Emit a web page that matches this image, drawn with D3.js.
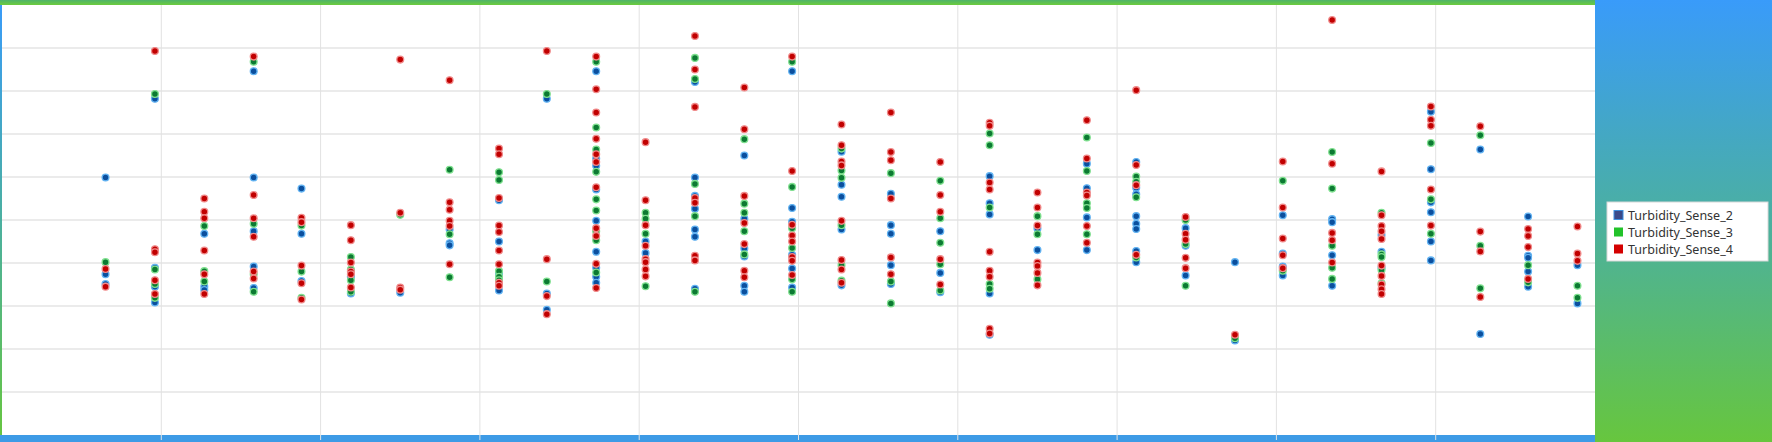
<!DOCTYPE html>
<html>
<head>
<meta charset="utf-8">
<script src="https://cdn.jsdelivr.net/npm/d3@7"></script>
<style>
  html, body { margin: 0; padding: 0; background: #fff; }
  svg { display: block; }
</style>
</head>
<body>
<div id="chart"></div>
<script>
var width = 1772;
var height = 442;

// x position of each sample column (grid units, 10 units across)
var columns = [0.65, 0.96, 1.27, 1.58, 1.88, 2.19, 2.50, 2.81, 3.12, 3.42,
               3.73, 4.04, 4.35, 4.66, 4.96, 5.27, 5.58, 5.89, 6.20, 6.50,
               6.81, 7.12, 7.43, 7.74, 8.04, 8.35, 8.66, 8.97, 9.28, 9.58, 9.89];

var seriesNames = ["Turbidity_Sense_2", "Turbidity_Sense_3", "Turbidity_Sense_4"];

// readings per column
var sense2 = [
  [5.99, 3.74, 3.51],
  [7.82, 3.89, 3.45, 3.08],
  [4.68, 3.45, 3.37],
  [8.46, 5.99, 4.74, 3.92, 3.42],
  [5.73, 4.68, 3.58],
  [3.68, 3.29],
  [3.31],
  [4.78, 4.46, 4.41],
  [5.46, 4.50, 3.76, 3.36],
  [7.82, 3.29, 2.91],
  [8.46, 6.43, 6.26, 5.71, 4.98, 4.26, 3.89, 3.68, 3.54],
  [4.50, 4.23],
  [8.21, 5.99, 5.56, 5.26, 4.78, 4.61, 3.40],
  [6.50, 5.03, 4.34, 4.15, 3.47, 3.33],
  [8.46, 5.28, 4.96, 4.19, 3.87, 3.43],
  [6.59, 5.82, 5.54, 4.78, 3.48],
  [5.61, 4.88, 4.68, 3.95, 3.51],
  [4.74, 3.77, 3.32],
  [6.02, 5.39, 5.13, 3.29, 2.33],
  [4.80, 4.30],
  [6.31, 5.74, 5.06, 4.30],
  [6.35, 5.75, 5.60, 5.09, 4.91, 4.79, 4.28, 4.02],
  [4.81, 4.40, 3.71],
  [4.02, 2.20],
  [5.11, 4.22, 3.92, 3.71],
  [5.02, 4.95, 4.18, 3.47],
  [4.65, 4.26, 3.89],
  [7.52, 6.18, 5.41, 5.18, 4.50, 4.06],
  [6.64, 2.35],
  [5.08, 4.17, 4.12, 3.80, 3.45],
  [3.95, 3.06]
];
var sense3 = [
  [4.02],
  [7.93, 3.85, 3.51, 3.19],
  [4.86, 3.81, 3.57],
  [8.68, 4.91, 3.74, 3.33],
  [4.87, 3.80, 3.19],
  [4.14, 3.85, 3.60, 3.33],
  [5.12],
  [6.17, 4.67, 3.67],
  [6.11, 5.93, 3.81, 3.68, 3.60],
  [7.93, 3.57],
  [8.68, 7.15, 6.64, 6.12, 5.48, 5.22, 4.74, 4.53, 3.78],
  [5.17, 5.03, 4.68, 3.46],
  [8.77, 8.28, 5.84, 5.09, 3.33],
  [6.88, 5.38, 5.17, 4.74, 4.20],
  [8.68, 5.77, 4.81, 4.35, 3.62, 3.33],
  [6.66, 6.15, 5.98, 4.88, 3.95, 3.59],
  [6.09, 3.57, 3.06],
  [5.91, 5.04, 4.47, 3.97, 3.36],
  [7.01, 6.74, 5.29, 3.51, 3.40],
  [5.09, 4.67, 3.62],
  [6.92, 6.14, 5.39, 5.28, 4.67],
  [6.01, 5.89, 5.53, 4.13],
  [5.00, 4.44, 3.47],
  [2.25],
  [5.91, 3.82],
  [6.58, 5.73, 4.40, 3.89, 3.63],
  [5.17, 4.20, 4.14, 3.84, 3.53],
  [6.79, 5.48, 4.68],
  [6.97, 4.40, 3.41],
  [3.95, 3.55],
  [3.47, 3.19]
];
var sense4 = [
  [3.86, 3.45],
  [8.93, 4.32, 4.25, 3.60, 3.28],
  [5.50, 5.19, 5.04, 4.29, 3.74, 3.28],
  [8.80, 5.58, 5.04, 4.61, 3.80, 3.64],
  [5.05, 4.95, 3.94, 3.53, 3.15],
  [4.88, 4.53, 4.01, 3.80, 3.74, 3.43],
  [8.73, 5.17, 3.43, 3.38],
  [8.25, 5.41, 5.24, 4.98, 4.86, 3.97],
  [6.66, 6.53, 5.51, 4.87, 4.72, 4.29, 3.97, 3.54, 3.47],
  [8.93, 4.09, 3.23, 2.81],
  [8.80, 8.04, 7.50, 6.89, 6.53, 6.35, 5.76, 4.81, 4.63, 3.98, 3.42],
  [6.81, 5.46, 4.88, 4.40, 4.09, 4.02, 3.85, 3.69],
  [9.28, 8.50, 7.63, 5.51, 5.40, 4.17, 4.06],
  [8.08, 7.11, 5.56, 4.93, 4.44, 3.82, 3.67],
  [8.80, 6.14, 4.89, 4.64, 4.50, 4.14, 4.05, 3.72],
  [7.22, 6.74, 6.36, 6.27, 4.98, 4.07, 3.85, 3.54],
  [7.50, 6.58, 6.39, 5.50, 4.13, 3.74],
  [6.35, 5.58, 5.19, 4.09, 3.50],
  [7.26, 7.19, 5.87, 5.71, 4.26, 3.82, 3.68, 2.47, 2.36],
  [5.64, 5.29, 4.87, 4.01, 3.93, 3.77, 3.48],
  [7.32, 6.43, 5.64, 5.57, 4.86, 4.47],
  [8.02, 6.28, 5.81, 4.19],
  [5.07, 4.68, 4.54, 4.12, 3.88],
  [2.33],
  [6.36, 5.29, 4.57, 4.18, 3.88],
  [9.65, 6.31, 4.70, 4.53, 4.01],
  [6.13, 5.11, 4.86, 4.74, 4.56, 3.94, 3.70, 3.50, 3.39, 3.28],
  [7.64, 7.33, 7.19, 5.71, 4.87],
  [7.18, 4.73, 4.27, 3.21],
  [4.79, 4.63, 4.37, 3.63],
  [4.85, 4.22, 4.05]
];

var fills = ["#0b4f9e", "#0c7a32", "#c10000"];
var rings = ["#62b3f2", "#7fe08f", "#f08a8a"];

var plot = {left: 2, top: 5, right: 1595, bottom: 435};

var x = d3.scaleLinear().domain([0, 10]).range([plot.left, plot.right]);
var y = d3.scaleLinear().domain([0, 10]).range([plot.bottom, plot.top]);

var svg = d3.select("#chart").append("svg")
  .attr("width", width)
  .attr("height", height);

var defs = svg.append("defs");
var side = defs.append("linearGradient").attr("id", "side")
  .attr("x1", 0).attr("y1", 0).attr("x2", 0).attr("y2", 1);
side.append("stop").attr("offset", "0%").attr("stop-color", "#399bfa");
side.append("stop").attr("offset", "50%").attr("stop-color", "#4bb0a0");
side.append("stop").attr("offset", "100%").attr("stop-color", "#67c63e");

var topbar = defs.append("linearGradient").attr("id", "topbar")
  .attr("x1", 0).attr("y1", 0).attr("x2", 0).attr("y2", 1);
topbar.append("stop").attr("offset", "0%").attr("stop-color", "#4fb36a");
topbar.append("stop").attr("offset", "100%").attr("stop-color", "#6ccc3c");

// background pieces
svg.append("rect").attr("x", 0).attr("y", 0).attr("width", width).attr("height", height)
  .attr("fill", "url(#side)");
svg.append("rect").attr("x", plot.left).attr("y", plot.top)
  .attr("width", plot.right - plot.left).attr("height", plot.bottom - plot.top)
  .attr("fill", "#fff");
svg.append("rect").attr("x", 0).attr("y", 0).attr("width", plot.right).attr("height", plot.top)
  .attr("fill", "url(#topbar)");
svg.append("rect").attr("x", 0).attr("y", plot.bottom).attr("width", plot.right).attr("height", height - plot.bottom)
  .attr("fill", "#3d9be6");

// grid
var g = svg.append("g");
g.selectAll("line.h").data(d3.range(1, 10)).enter().append("line")
  .attr("x1", plot.left).attr("x2", plot.right)
  .attr("y1", d => y(d)).attr("y2", d => y(d))
  .attr("stroke", "#ebebeb").attr("stroke-width", 2);
g.selectAll("line.v").data(d3.range(1, 10)).enter().append("line")
  .attr("x1", d => x(d)).attr("x2", d => x(d))
  .attr("y1", plot.top).attr("y2", plot.bottom + 5)
  .attr("stroke", "#e2e2e2").attr("stroke-width", 1);

// points
var points = [sense2, sense3, sense4];
points.forEach(function(series, si) {
  var flat = [];
  series.forEach(function(vals, ci) {
    vals.forEach(function(v) { flat.push([columns[ci], v]); });
  });
  svg.append("g").selectAll("circle").data(flat).enter().append("circle")
    .attr("cx", d => x(d[0]))
    .attr("cy", d => y(d[1]))
    .attr("r", 3.4)
    .attr("fill", fills[si])
    .attr("stroke", rings[si])
    .attr("stroke-width", 1.3);
});

// legend
var lg = svg.append("g").attr("transform", "translate(1607,202)");
lg.append("rect").attr("width", 161).attr("height", 59)
  .attr("fill", "#fff").attr("stroke", "#d8d8d8");
seriesNames.forEach(function(name, i) {
  var row = lg.append("g").attr("transform", "translate(7," + (13 + i * 17) + ")");
  row.append("rect").attr("x", 0).attr("y", -4.5).attr("width", 9).attr("height", 9)
    .attr("fill", i == 0 ? "#3a4a8a" : fills[i] == "#0c7a32" ? "#22c22a" : "#d40000")
    .attr("stroke", i == 0 ? "#3a8ee0" : "none");
  row.append("text").attr("x", 14).attr("y", 4.5)
    .attr("font-family", "'Noto Sans', 'DejaVu Sans', sans-serif")
    .attr("font-size", 12.5)
    .attr("fill", "#333")
    .text(name);
});
</script>
</body>
</html>
